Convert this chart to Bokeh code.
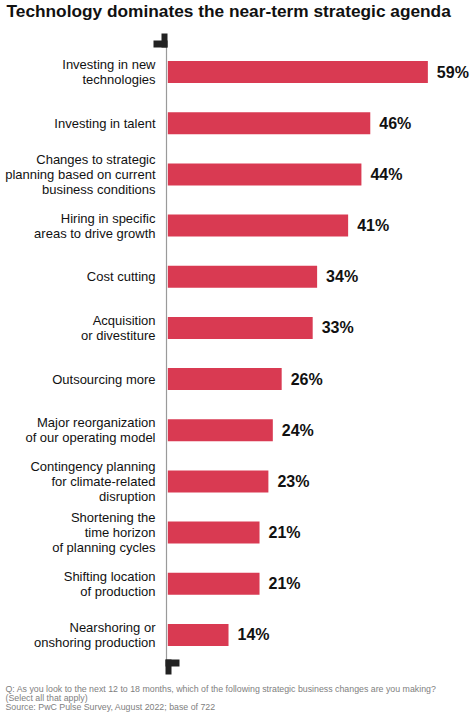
from bokeh.plotting import figure
from bokeh.models import Range1d, ColumnDataSource, Label, BoxAnnotation
from bokeh.core.properties import value
from bokeh.embed import file_html
from bokeh.resources import INLINE

title_text = "Technology dominates the near-term strategic agenda"
categories = [
    "Investing in new\ntechnologies",
    "Investing in talent",
    "Changes to strategic\nplanning based on current\nbusiness conditions",
    "Hiring in specific\nareas to drive growth",
    "Cost cutting",
    "Acquisition\nor divestiture",
    "Outsourcing more",
    "Major reorganization\nof our operating model",
    "Contingency planning\nfor climate-related\ndisruption",
    "Shortening the\ntime horizon\nof planning cycles",
    "Shifting location\nof production",
    "Nearshoring or\nonshoring production",
]
values = [59, 46, 44, 41, 34, 33, 26, 24, 23, 21, 21, 14]
labels = [f"{v}%" for v in values]
note_lines = [
    "Q: As you look to the next 12 to 18 months, which of the following strategic business changes are you making?",
    "(Select all that apply)",
    "Source: PwC Pulse Survey, August 2022; base of 722",
]

FONT = "Liberation Sans"
BAR = "#D93A52"

W, H = 474, 716
TOP, BOTTOM = 46, 56          # pixel extent of the category band
AXIS_X = 166                  # pixel position of the zero line
PX_PER = 4.43                 # pixels per percentage point
n = len(categories)
ROW = (H - TOP - BOTTOM) / n  # pixels per category row

pos = list(range(n))          # row index, 0 at the top
src = ColumnDataSource(dict(pos=pos, cat=categories, val=values, lbl=labels))

y_top = -0.5 - TOP / ROW
y_bot = (n - 0.5) + BOTTOM / ROW
x_lo = -AXIS_X / PX_PER
x_hi = (W - AXIS_X) / PX_PER

def px_x(px):
    return x_lo + px / PX_PER

def px_y(py):
    return y_top + py / ROW

p = figure(
    width=W, height=H,
    x_range=Range1d(x_lo, x_hi),
    y_range=Range1d(y_bot, y_top),
    output_backend="svg", toolbar_location=None,
    min_border=0,
)
p.outline_line_color = None
p.grid.visible = False
p.xaxis.visible = False
p.yaxis.visible = False
p.background_fill_color = "white"
p.border_fill_color = "white"

# axis line
p.segment(x0=[0], y0=[px_y(40)], x1=[0], y1=[px_y(660)], line_color="#9a9a9a", line_width=1.2)

p.hbar(y="pos", left=0.3, right="val", height=0.43, source=src,
       fill_color=BAR, line_color=None)
p.text(x="val", y="pos", text="lbl", source=src, x_offset=9,
       text_baseline="middle", text_align="left",
       text_font=value(FONT), text_font_size="16px", text_font_style="bold",
       text_color="#111111")
p.text(x=0, y="pos", text="cat", source=src, x_offset=-11,
       text_baseline="middle", text_align="right",
       text_font=value(FONT), text_font_size="13px",
       text_line_height=1.0, text_color="#111111")

p.add_layout(Label(x=px_x(6), y=px_y(10.5), text=title_text,
                   text_font=FONT, text_font_size="17.3px", text_font_style="bold",
                   text_color="#111111", text_baseline="middle", text_align="left"))

for i, line in enumerate(note_lines):
    p.add_layout(Label(x=px_x(5), y=px_y(688 + 9 * i), text=line,
                       text_font=FONT, text_font_size="8.8px", text_color="#808080",
                       text_baseline="middle", text_align="left"))

# small end markers on the axis
for l, r, t, b in [(161, 167, 33, 47), (153, 167, 40, 47), (165, 171, 659, 674), (165, 179, 659, 666)]:
    p.add_layout(BoxAnnotation(left=px_x(l), right=px_x(r), top=px_y(t), bottom=px_y(b),
                               fill_color="#222222", fill_alpha=1.0, line_color=None))

open("out.html", "w").write(file_html(p, INLINE))
